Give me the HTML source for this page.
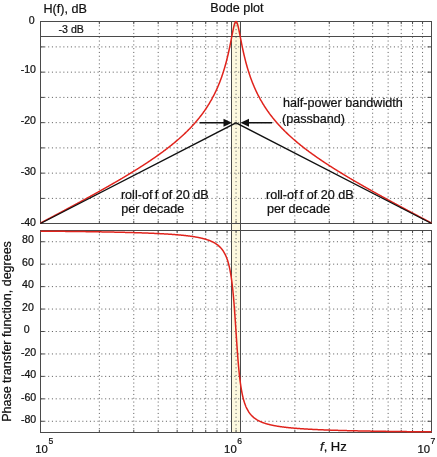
<!DOCTYPE html>
<html><head><meta charset="utf-8"><title>Bode plot</title>
<style>html,body{margin:0;padding:0;background:#fff}body{width:437px;height:457px;overflow:hidden}</style></head>
<body>
<svg width="437" height="457" viewBox="0 0 437 457" style="display:block">
<rect width="100%" height="100%" fill="#fff"/>
<rect x="231.5" y="21.5" width="9.0" height="411.0" fill="#fdf9df"/>
<path d="M99.35 21.5 V223.5 M99.35 230.5 V432.5 M133.78 21.5 V223.5 M133.78 230.5 V432.5 M158.20 21.5 V223.5 M158.20 230.5 V432.5 M177.15 21.5 V223.5 M177.15 230.5 V432.5 M192.63 21.5 V223.5 M192.63 230.5 V432.5 M205.72 21.5 V223.5 M205.72 230.5 V432.5 M217.05 21.5 V223.5 M217.05 230.5 V432.5 M227.05 21.5 V223.5 M227.05 230.5 V432.5 M294.85 21.5 V223.5 M294.85 230.5 V432.5 M329.28 21.5 V223.5 M329.28 230.5 V432.5 M353.70 21.5 V223.5 M353.70 230.5 V432.5 M372.65 21.5 V223.5 M372.65 230.5 V432.5 M388.13 21.5 V223.5 M388.13 230.5 V432.5 M401.22 21.5 V223.5 M401.22 230.5 V432.5 M412.55 21.5 V223.5 M412.55 230.5 V432.5 M422.55 21.5 V223.5 M422.55 230.5 V432.5 M236.05 21.5 V223.5 M236.05 230.5 V432.5 M40.5 198.40 H431.5 M40.5 173.15 H431.5 M40.5 147.90 H431.5 M40.5 122.65 H431.5 M40.5 97.40 H431.5 M40.5 72.15 H431.5 M40.5 46.90 H431.5 M40.5 421.28 H431.5 M40.5 398.83 H431.5 M40.5 376.39 H431.5 M40.5 353.94 H431.5 M40.5 331.50 H431.5 M40.5 309.06 H431.5 M40.5 286.61 H431.5 M40.5 264.17 H431.5 M40.5 241.72 H431.5" stroke="#686868" stroke-width="1" stroke-dasharray="1.1 2.7" fill="none"/>
<path d="M99.35 21.5 v2.6 M99.35 223.5 v-2.6 M99.35 230.5 v2.6 M99.35 432.5 v-2.6 M133.78 21.5 v2.6 M133.78 223.5 v-2.6 M133.78 230.5 v2.6 M133.78 432.5 v-2.6 M158.20 21.5 v2.6 M158.20 223.5 v-2.6 M158.20 230.5 v2.6 M158.20 432.5 v-2.6 M177.15 21.5 v2.6 M177.15 223.5 v-2.6 M177.15 230.5 v2.6 M177.15 432.5 v-2.6 M192.63 21.5 v2.6 M192.63 223.5 v-2.6 M192.63 230.5 v2.6 M192.63 432.5 v-2.6 M205.72 21.5 v2.6 M205.72 223.5 v-2.6 M205.72 230.5 v2.6 M205.72 432.5 v-2.6 M217.05 21.5 v2.6 M217.05 223.5 v-2.6 M217.05 230.5 v2.6 M217.05 432.5 v-2.6 M227.05 21.5 v2.6 M227.05 223.5 v-2.6 M227.05 230.5 v2.6 M227.05 432.5 v-2.6 M294.85 21.5 v2.6 M294.85 223.5 v-2.6 M294.85 230.5 v2.6 M294.85 432.5 v-2.6 M329.28 21.5 v2.6 M329.28 223.5 v-2.6 M329.28 230.5 v2.6 M329.28 432.5 v-2.6 M353.70 21.5 v2.6 M353.70 223.5 v-2.6 M353.70 230.5 v2.6 M353.70 432.5 v-2.6 M372.65 21.5 v2.6 M372.65 223.5 v-2.6 M372.65 230.5 v2.6 M372.65 432.5 v-2.6 M388.13 21.5 v2.6 M388.13 223.5 v-2.6 M388.13 230.5 v2.6 M388.13 432.5 v-2.6 M401.22 21.5 v2.6 M401.22 223.5 v-2.6 M401.22 230.5 v2.6 M401.22 432.5 v-2.6 M412.55 21.5 v2.6 M412.55 223.5 v-2.6 M412.55 230.5 v2.6 M412.55 432.5 v-2.6 M422.55 21.5 v2.6 M422.55 223.5 v-2.6 M422.55 230.5 v2.6 M422.55 432.5 v-2.6 M236.05 21.5 v2.6 M236.05 223.5 v-2.6 M236.05 230.5 v2.6 M236.05 432.5 v-2.6 M40.5 198.40 h4 M431.5 198.40 h-4 M40.5 173.15 h4 M431.5 173.15 h-4 M40.5 147.90 h4 M431.5 147.90 h-4 M40.5 122.65 h4 M431.5 122.65 h-4 M40.5 97.40 h4 M431.5 97.40 h-4 M40.5 72.15 h4 M431.5 72.15 h-4 M40.5 46.90 h4 M431.5 46.90 h-4 M40.5 421.28 h4 M431.5 421.28 h-4 M40.5 398.83 h4 M431.5 398.83 h-4 M40.5 376.39 h4 M431.5 376.39 h-4 M40.5 353.94 h4 M431.5 353.94 h-4 M40.5 331.50 h4 M431.5 331.50 h-4 M40.5 309.06 h4 M431.5 309.06 h-4 M40.5 286.61 h4 M431.5 286.61 h-4 M40.5 264.17 h4 M431.5 264.17 h-4 M40.5 241.72 h4 M431.5 241.72 h-4" stroke="#4a4a4a" stroke-width="1" fill="none"/>
<path d="M231.5 21.5 V432.5 M240.5 21.5 V432.5" stroke="#4a4a4a" stroke-width="1" fill="none"/>
<rect x="40.5" y="21.5" width="391.0" height="202.0" fill="none" stroke="#4a4a4a" stroke-width="1"/>
<rect x="40.5" y="230.5" width="391.0" height="202.0" fill="none" stroke="#4a4a4a" stroke-width="1"/>
<path d="M40.5 36.5 H431.5" stroke="#4a4a4a" stroke-width="1" fill="none"/>
<path d="M40.50 223.06 L40.78 222.91 L41.06 222.77 L41.34 222.62 L41.62 222.47 L41.90 222.33 L42.18 222.18 L42.45 222.03 L42.73 221.88 L43.01 221.74 L43.29 221.59 L43.57 221.44 L43.85 221.29 L44.13 221.15 L44.41 221.00 L44.69 220.85 L44.97 220.70 L45.25 220.56 L45.53 220.41 L45.81 220.26 L46.09 220.11 L46.37 219.97 L46.64 219.82 L46.92 219.67 L47.20 219.52 L47.48 219.38 L47.76 219.23 L48.04 219.08 L48.32 218.93 L48.60 218.78 L48.88 218.64 L49.16 218.49 L49.44 218.34 L49.72 218.19 L50.00 218.05 L50.27 217.90 L50.55 217.75 L50.83 217.60 L51.11 217.45 L51.39 217.31 L51.67 217.16 L51.95 217.01 L52.23 216.86 L52.51 216.71 L52.79 216.56 L53.07 216.42 L53.35 216.27 L53.63 216.12 L53.91 215.97 L54.19 215.82 L54.46 215.68 L54.74 215.53 L55.02 215.38 L55.30 215.23 L55.58 215.08 L55.86 214.93 L56.14 214.78 L56.42 214.64 L56.70 214.49 L56.98 214.34 L57.26 214.19 L57.54 214.04 L57.82 213.89 L58.09 213.74 L58.37 213.60 L58.65 213.45 L58.93 213.30 L59.21 213.15 L59.49 213.00 L59.77 212.85 L60.05 212.70 L60.33 212.55 L60.61 212.40 L60.89 212.26 L61.17 212.11 L61.45 211.96 L61.73 211.81 L62.01 211.66 L62.28 211.51 L62.56 211.36 L62.84 211.21 L63.12 211.06 L63.40 210.91 L63.68 210.76 L63.96 210.61 L64.24 210.47 L64.52 210.32 L64.80 210.17 L65.08 210.02 L65.36 209.87 L65.64 209.72 L65.91 209.57 L66.19 209.42 L66.47 209.27 L66.75 209.12 L67.03 208.97 L67.31 208.82 L67.59 208.67 L67.87 208.52 L68.15 208.37 L68.43 208.22 L68.71 208.07 L68.99 207.92 L69.27 207.77 L69.55 207.62 L69.83 207.47 L70.10 207.32 L70.38 207.17 L70.66 207.02 L70.94 206.87 L71.22 206.72 L71.50 206.57 L71.78 206.42 L72.06 206.27 L72.34 206.12 L72.62 205.97 L72.90 205.82 L73.18 205.67 L73.46 205.52 L73.73 205.36 L74.01 205.21 L74.29 205.06 L74.57 204.91 L74.85 204.76 L75.13 204.61 L75.41 204.46 L75.69 204.31 L75.97 204.16 L76.25 204.01 L76.53 203.86 L76.81 203.70 L77.09 203.55 L77.37 203.40 L77.65 203.25 L77.92 203.10 L78.20 202.95 L78.48 202.80 L78.76 202.64 L79.04 202.49 L79.32 202.34 L79.60 202.19 L79.88 202.04 L80.16 201.89 L80.44 201.73 L80.72 201.58 L81.00 201.43 L81.28 201.28 L81.55 201.13 L81.83 200.97 L82.11 200.82 L82.39 200.67 L82.67 200.52 L82.95 200.37 L83.23 200.21 L83.51 200.06 L83.79 199.91 L84.07 199.76 L84.35 199.60 L84.63 199.45 L84.91 199.30 L85.19 199.15 L85.47 198.99 L85.74 198.84 L86.02 198.69 L86.30 198.53 L86.58 198.38 L86.86 198.23 L87.14 198.08 L87.42 197.92 L87.70 197.77 L87.98 197.62 L88.26 197.46 L88.54 197.31 L88.82 197.16 L89.10 197.00 L89.38 196.85 L89.65 196.69 L89.93 196.54 L90.21 196.39 L90.49 196.23 L90.77 196.08 L91.05 195.92 L91.33 195.77 L91.61 195.62 L91.89 195.46 L92.17 195.31 L92.45 195.15 L92.73 195.00 L93.01 194.84 L93.28 194.69 L93.56 194.54 L93.84 194.38 L94.12 194.23 L94.40 194.07 L94.68 193.92 L94.96 193.76 L95.24 193.61 L95.52 193.45 L95.80 193.30 L96.08 193.14 L96.36 192.99 L96.64 192.83 L96.92 192.67 L97.20 192.52 L97.47 192.36 L97.75 192.21 L98.03 192.05 L98.31 191.90 L98.59 191.74 L98.87 191.58 L99.15 191.43 L99.43 191.27 L99.71 191.11 L99.99 190.96 L100.27 190.80 L100.55 190.65 L100.83 190.49 L101.10 190.33 L101.38 190.18 L101.66 190.02 L101.94 189.86 L102.22 189.70 L102.50 189.55 L102.78 189.39 L103.06 189.23 L103.34 189.08 L103.62 188.92 L103.90 188.76 L104.18 188.60 L104.46 188.44 L104.74 188.29 L105.02 188.13 L105.29 187.97 L105.57 187.81 L105.85 187.65 L106.13 187.50 L106.41 187.34 L106.69 187.18 L106.97 187.02 L107.25 186.86 L107.53 186.70 L107.81 186.54 L108.09 186.38 L108.37 186.23 L108.65 186.07 L108.92 185.91 L109.20 185.75 L109.48 185.59 L109.76 185.43 L110.04 185.27 L110.32 185.11 L110.60 184.95 L110.88 184.79 L111.16 184.63 L111.44 184.47 L111.72 184.31 L112.00 184.15 L112.28 183.99 L112.56 183.83 L112.84 183.66 L113.11 183.50 L113.39 183.34 L113.67 183.18 L113.95 183.02 L114.23 182.86 L114.51 182.70 L114.79 182.53 L115.07 182.37 L115.35 182.21 L115.63 182.05 L115.91 181.89 L116.19 181.72 L116.47 181.56 L116.74 181.40 L117.02 181.24 L117.30 181.07 L117.58 180.91 L117.86 180.75 L118.14 180.58 L118.42 180.42 L118.70 180.26 L118.98 180.09 L119.26 179.93 L119.54 179.77 L119.82 179.60 L120.10 179.44 L120.38 179.27 L120.66 179.11 L120.93 178.94 L121.21 178.78 L121.49 178.61 L121.77 178.45 L122.05 178.28 L122.33 178.12 L122.61 177.95 L122.89 177.79 L123.17 177.62 L123.45 177.46 L123.73 177.29 L124.01 177.12 L124.29 176.96 L124.56 176.79 L124.84 176.62 L125.12 176.46 L125.40 176.29 L125.68 176.12 L125.96 175.95 L126.24 175.79 L126.52 175.62 L126.80 175.45 L127.08 175.28 L127.36 175.11 L127.64 174.95 L127.92 174.78 L128.20 174.61 L128.48 174.44 L128.75 174.27 L129.03 174.10 L129.31 173.93 L129.59 173.76 L129.87 173.59 L130.15 173.42 L130.43 173.25 L130.71 173.08 L130.99 172.91 L131.27 172.74 L131.55 172.57 L131.83 172.40 L132.11 172.23 L132.38 172.06 L132.66 171.88 L132.94 171.71 L133.22 171.54 L133.50 171.37 L133.78 171.20 L134.06 171.02 L134.34 170.85 L134.62 170.68 L134.90 170.50 L135.18 170.33 L135.46 170.16 L135.74 169.98 L136.02 169.81 L136.30 169.63 L136.57 169.46 L136.85 169.28 L137.13 169.11 L137.41 168.93 L137.69 168.76 L137.97 168.58 L138.25 168.41 L138.53 168.23 L138.81 168.05 L139.09 167.88 L139.37 167.70 L139.65 167.52 L139.93 167.34 L140.20 167.17 L140.48 166.99 L140.76 166.81 L141.04 166.63 L141.32 166.45 L141.60 166.27 L141.88 166.10 L142.16 165.92 L142.44 165.74 L142.72 165.56 L143.00 165.38 L143.28 165.20 L143.56 165.01 L143.84 164.83 L144.12 164.65 L144.39 164.47 L144.67 164.29 L144.95 164.11 L145.23 163.92 L145.51 163.74 L145.79 163.56 L146.07 163.38 L146.35 163.19 L146.63 163.01 L146.91 162.82 L147.19 162.64 L147.47 162.45 L147.75 162.27 L148.02 162.08 L148.30 161.90 L148.58 161.71 L148.86 161.53 L149.14 161.34 L149.42 161.15 L149.70 160.97 L149.98 160.78 L150.26 160.59 L150.54 160.40 L150.82 160.21 L151.10 160.02 L151.38 159.83 L151.66 159.64 L151.94 159.45 L152.21 159.26 L152.49 159.07 L152.77 158.88 L153.05 158.69 L153.33 158.50 L153.61 158.31 L153.89 158.12 L154.17 157.92 L154.45 157.73 L154.73 157.54 L155.01 157.34 L155.29 157.15 L155.57 156.95 L155.84 156.76 L156.12 156.56 L156.40 156.37 L156.68 156.17 L156.96 155.97 L157.24 155.78 L157.52 155.58 L157.80 155.38 L158.08 155.18 L158.36 154.98 L158.64 154.78 L158.92 154.58 L159.20 154.38 L159.48 154.18 L159.76 153.98 L160.03 153.78 L160.31 153.58 L160.59 153.38 L160.87 153.17 L161.15 152.97 L161.43 152.77 L161.71 152.56 L161.99 152.36 L162.27 152.15 L162.55 151.95 L162.83 151.74 L163.11 151.53 L163.39 151.33 L163.66 151.12 L163.94 150.91 L164.22 150.70 L164.50 150.49 L164.78 150.28 L165.06 150.07 L165.34 149.86 L165.62 149.65 L165.90 149.44 L166.18 149.23 L166.46 149.01 L166.74 148.80 L167.02 148.59 L167.30 148.37 L167.58 148.16 L167.85 147.94 L168.13 147.72 L168.41 147.51 L168.69 147.29 L168.97 147.07 L169.25 146.85 L169.53 146.63 L169.81 146.41 L170.09 146.19 L170.37 145.97 L170.65 145.75 L170.93 145.53 L171.21 145.30 L171.48 145.08 L171.76 144.85 L172.04 144.63 L172.32 144.40 L172.60 144.18 L172.88 143.95 L173.16 143.72 L173.44 143.49 L173.72 143.26 L174.00 143.03 L174.28 142.80 L174.56 142.57 L174.84 142.34 L175.12 142.10 L175.39 141.87 L175.67 141.64 L175.95 141.40 L176.23 141.16 L176.51 140.93 L176.79 140.69 L177.07 140.45 L177.35 140.21 L177.63 139.97 L177.91 139.73 L178.19 139.49 L178.47 139.24 L178.75 139.00 L179.03 138.75 L179.31 138.51 L179.58 138.26 L179.86 138.01 L180.14 137.77 L180.42 137.52 L180.70 137.27 L180.98 137.02 L181.26 136.76 L181.54 136.51 L181.82 136.26 L182.10 136.00 L182.38 135.74 L182.66 135.49 L182.94 135.23 L183.22 134.97 L183.49 134.71 L183.77 134.45 L184.05 134.19 L184.33 133.92 L184.61 133.66 L184.89 133.39 L185.17 133.13 L185.45 132.86 L185.73 132.59 L186.01 132.32 L186.29 132.05 L186.57 131.77 L186.85 131.50 L187.12 131.22 L187.40 130.95 L187.68 130.67 L187.96 130.39 L188.24 130.11 L188.52 129.83 L188.80 129.55 L189.08 129.26 L189.36 128.98 L189.64 128.69 L189.92 128.40 L190.20 128.11 L190.48 127.82 L190.76 127.53 L191.03 127.23 L191.31 126.94 L191.59 126.64 L191.87 126.34 L192.15 126.04 L192.43 125.74 L192.71 125.43 L192.99 125.13 L193.27 124.82 L193.55 124.51 L193.83 124.20 L194.11 123.89 L194.39 123.58 L194.67 123.26 L194.94 122.94 L195.22 122.63 L195.50 122.30 L195.78 121.98 L196.06 121.66 L196.34 121.33 L196.62 121.00 L196.90 120.67 L197.18 120.34 L197.46 120.00 L197.74 119.67 L198.02 119.33 L198.30 118.99 L198.58 118.64 L198.86 118.30 L199.13 117.95 L199.41 117.60 L199.69 117.25 L199.97 116.90 L200.25 116.54 L200.53 116.18 L200.81 115.82 L201.09 115.45 L201.37 115.09 L201.65 114.72 L201.93 114.35 L202.21 113.97 L202.49 113.60 L202.77 113.22 L203.04 112.83 L203.32 112.45 L203.60 112.06 L203.88 111.67 L204.16 111.27 L204.44 110.88 L204.72 110.47 L205.00 110.07 L205.28 109.66 L205.56 109.25 L205.84 108.84 L206.12 108.42 L206.40 108.00 L206.67 107.58 L206.95 107.15 L207.23 106.72 L207.51 106.29 L207.79 105.85 L208.07 105.40 L208.35 104.96 L208.63 104.51 L208.91 104.05 L209.19 103.59 L209.47 103.13 L209.75 102.66 L210.03 102.19 L210.31 101.72 L210.59 101.24 L210.86 100.75 L211.14 100.26 L211.42 99.76 L211.70 99.26 L211.98 98.76 L212.26 98.25 L212.54 97.73 L212.82 97.21 L213.10 96.68 L213.38 96.15 L213.66 95.61 L213.94 95.07 L214.22 94.51 L214.49 93.96 L214.77 93.39 L215.05 92.82 L215.33 92.25 L215.61 91.66 L215.89 91.07 L216.17 90.47 L216.45 89.87 L216.73 89.25 L217.01 88.63 L217.29 88.00 L217.57 87.37 L217.85 86.72 L218.13 86.07 L218.41 85.40 L218.68 84.73 L218.96 84.05 L219.24 83.36 L219.52 82.66 L219.80 81.94 L220.08 81.22 L220.36 80.49 L220.64 79.75 L220.92 78.99 L221.20 78.22 L221.48 77.44 L221.76 76.65 L222.04 75.85 L222.31 75.03 L222.59 74.20 L222.87 73.35 L223.15 72.50 L223.43 71.62 L223.71 70.73 L223.99 69.83 L224.27 68.90 L224.55 67.97 L224.83 67.01 L225.11 66.04 L225.39 65.04 L225.67 64.03 L225.95 63.00 L226.23 61.95 L226.50 60.88 L226.78 59.79 L227.06 58.68 L227.34 57.55 L227.62 56.39 L227.90 55.21 L228.18 54.01 L228.46 52.78 L228.74 51.53 L229.02 50.26 L229.30 48.96 L229.58 47.64 L229.86 46.30 L230.13 44.94 L230.41 43.56 L230.69 42.15 L230.97 40.74 L231.25 39.31 L231.53 37.87 L231.81 36.42 L232.09 34.98 L232.37 33.55 L232.65 32.13 L232.93 30.74 L233.21 29.39 L233.49 28.09 L233.77 26.86 L234.05 25.72 L234.32 24.68 L234.60 23.75 L234.88 22.97 L235.16 22.34 L235.44 21.88 L235.72 21.59 L236.00 21.50 L236.28 21.59 L236.56 21.88 L236.84 22.34 L237.12 22.97 L237.40 23.75 L237.68 24.68 L237.95 25.72 L238.23 26.86 L238.51 28.09 L238.79 29.39 L239.07 30.74 L239.35 32.13 L239.63 33.55 L239.91 34.98 L240.19 36.42 L240.47 37.87 L240.75 39.31 L241.03 40.74 L241.31 42.15 L241.59 43.56 L241.87 44.94 L242.14 46.30 L242.42 47.64 L242.70 48.96 L242.98 50.26 L243.26 51.53 L243.54 52.78 L243.82 54.01 L244.10 55.21 L244.38 56.39 L244.66 57.55 L244.94 58.68 L245.22 59.79 L245.50 60.88 L245.77 61.95 L246.05 63.00 L246.33 64.03 L246.61 65.04 L246.89 66.04 L247.17 67.01 L247.45 67.97 L247.73 68.90 L248.01 69.83 L248.29 70.73 L248.57 71.62 L248.85 72.50 L249.13 73.35 L249.41 74.20 L249.69 75.03 L249.96 75.85 L250.24 76.65 L250.52 77.44 L250.80 78.22 L251.08 78.99 L251.36 79.75 L251.64 80.49 L251.92 81.22 L252.20 81.94 L252.48 82.66 L252.76 83.36 L253.04 84.05 L253.32 84.73 L253.59 85.40 L253.87 86.07 L254.15 86.72 L254.43 87.37 L254.71 88.00 L254.99 88.63 L255.27 89.25 L255.55 89.87 L255.83 90.47 L256.11 91.07 L256.39 91.66 L256.67 92.25 L256.95 92.82 L257.23 93.39 L257.51 93.96 L257.78 94.51 L258.06 95.07 L258.34 95.61 L258.62 96.15 L258.90 96.68 L259.18 97.21 L259.46 97.73 L259.74 98.25 L260.02 98.76 L260.30 99.26 L260.58 99.76 L260.86 100.26 L261.14 100.75 L261.41 101.24 L261.69 101.72 L261.97 102.19 L262.25 102.66 L262.53 103.13 L262.81 103.59 L263.09 104.05 L263.37 104.51 L263.65 104.96 L263.93 105.40 L264.21 105.85 L264.49 106.29 L264.77 106.72 L265.05 107.15 L265.33 107.58 L265.60 108.00 L265.88 108.42 L266.16 108.84 L266.44 109.25 L266.72 109.66 L267.00 110.07 L267.28 110.47 L267.56 110.88 L267.84 111.27 L268.12 111.67 L268.40 112.06 L268.68 112.45 L268.96 112.83 L269.24 113.22 L269.51 113.60 L269.79 113.97 L270.07 114.35 L270.35 114.72 L270.63 115.09 L270.91 115.45 L271.19 115.82 L271.47 116.18 L271.75 116.54 L272.03 116.90 L272.31 117.25 L272.59 117.60 L272.87 117.95 L273.14 118.30 L273.42 118.64 L273.70 118.99 L273.98 119.33 L274.26 119.67 L274.54 120.00 L274.82 120.34 L275.10 120.67 L275.38 121.00 L275.66 121.33 L275.94 121.66 L276.22 121.98 L276.50 122.30 L276.78 122.63 L277.06 122.94 L277.33 123.26 L277.61 123.58 L277.89 123.89 L278.17 124.20 L278.45 124.51 L278.73 124.82 L279.01 125.13 L279.29 125.43 L279.57 125.74 L279.85 126.04 L280.13 126.34 L280.41 126.64 L280.69 126.94 L280.97 127.23 L281.24 127.53 L281.52 127.82 L281.80 128.11 L282.08 128.40 L282.36 128.69 L282.64 128.98 L282.92 129.26 L283.20 129.55 L283.48 129.83 L283.76 130.11 L284.04 130.39 L284.32 130.67 L284.60 130.95 L284.88 131.22 L285.15 131.50 L285.43 131.77 L285.71 132.05 L285.99 132.32 L286.27 132.59 L286.55 132.86 L286.83 133.13 L287.11 133.39 L287.39 133.66 L287.67 133.92 L287.95 134.19 L288.23 134.45 L288.51 134.71 L288.78 134.97 L289.06 135.23 L289.34 135.49 L289.62 135.74 L289.90 136.00 L290.18 136.26 L290.46 136.51 L290.74 136.76 L291.02 137.02 L291.30 137.27 L291.58 137.52 L291.86 137.77 L292.14 138.01 L292.42 138.26 L292.69 138.51 L292.97 138.75 L293.25 139.00 L293.53 139.24 L293.81 139.49 L294.09 139.73 L294.37 139.97 L294.65 140.21 L294.93 140.45 L295.21 140.69 L295.49 140.93 L295.77 141.16 L296.05 141.40 L296.33 141.64 L296.61 141.87 L296.88 142.10 L297.16 142.34 L297.44 142.57 L297.72 142.80 L298.00 143.03 L298.28 143.26 L298.56 143.49 L298.84 143.72 L299.12 143.95 L299.40 144.18 L299.68 144.40 L299.96 144.63 L300.24 144.85 L300.51 145.08 L300.79 145.30 L301.07 145.53 L301.35 145.75 L301.63 145.97 L301.91 146.19 L302.19 146.41 L302.47 146.63 L302.75 146.85 L303.03 147.07 L303.31 147.29 L303.59 147.51 L303.87 147.72 L304.15 147.94 L304.42 148.16 L304.70 148.37 L304.98 148.59 L305.26 148.80 L305.54 149.01 L305.82 149.23 L306.10 149.44 L306.38 149.65 L306.66 149.86 L306.94 150.07 L307.22 150.28 L307.50 150.49 L307.78 150.70 L308.06 150.91 L308.34 151.12 L308.61 151.33 L308.89 151.53 L309.17 151.74 L309.45 151.95 L309.73 152.15 L310.01 152.36 L310.29 152.56 L310.57 152.77 L310.85 152.97 L311.13 153.17 L311.41 153.38 L311.69 153.58 L311.97 153.78 L312.24 153.98 L312.52 154.18 L312.80 154.38 L313.08 154.58 L313.36 154.78 L313.64 154.98 L313.92 155.18 L314.20 155.38 L314.48 155.58 L314.76 155.78 L315.04 155.97 L315.32 156.17 L315.60 156.37 L315.88 156.56 L316.16 156.76 L316.43 156.95 L316.71 157.15 L316.99 157.34 L317.27 157.54 L317.55 157.73 L317.83 157.92 L318.11 158.12 L318.39 158.31 L318.67 158.50 L318.95 158.69 L319.23 158.88 L319.51 159.07 L319.79 159.26 L320.06 159.45 L320.34 159.64 L320.62 159.83 L320.90 160.02 L321.18 160.21 L321.46 160.40 L321.74 160.59 L322.02 160.78 L322.30 160.97 L322.58 161.15 L322.86 161.34 L323.14 161.53 L323.42 161.71 L323.70 161.90 L323.98 162.08 L324.25 162.27 L324.53 162.45 L324.81 162.64 L325.09 162.82 L325.37 163.01 L325.65 163.19 L325.93 163.38 L326.21 163.56 L326.49 163.74 L326.77 163.92 L327.05 164.11 L327.33 164.29 L327.61 164.47 L327.88 164.65 L328.16 164.83 L328.44 165.01 L328.72 165.20 L329.00 165.38 L329.28 165.56 L329.56 165.74 L329.84 165.92 L330.12 166.10 L330.40 166.27 L330.68 166.45 L330.96 166.63 L331.24 166.81 L331.52 166.99 L331.80 167.17 L332.07 167.34 L332.35 167.52 L332.63 167.70 L332.91 167.88 L333.19 168.05 L333.47 168.23 L333.75 168.41 L334.03 168.58 L334.31 168.76 L334.59 168.93 L334.87 169.11 L335.15 169.28 L335.43 169.46 L335.70 169.63 L335.98 169.81 L336.26 169.98 L336.54 170.16 L336.82 170.33 L337.10 170.50 L337.38 170.68 L337.66 170.85 L337.94 171.02 L338.22 171.20 L338.50 171.37 L338.78 171.54 L339.06 171.71 L339.34 171.88 L339.62 172.06 L339.89 172.23 L340.17 172.40 L340.45 172.57 L340.73 172.74 L341.01 172.91 L341.29 173.08 L341.57 173.25 L341.85 173.42 L342.13 173.59 L342.41 173.76 L342.69 173.93 L342.97 174.10 L343.25 174.27 L343.52 174.44 L343.80 174.61 L344.08 174.78 L344.36 174.95 L344.64 175.11 L344.92 175.28 L345.20 175.45 L345.48 175.62 L345.76 175.79 L346.04 175.95 L346.32 176.12 L346.60 176.29 L346.88 176.46 L347.16 176.62 L347.44 176.79 L347.71 176.96 L347.99 177.12 L348.27 177.29 L348.55 177.46 L348.83 177.62 L349.11 177.79 L349.39 177.95 L349.67 178.12 L349.95 178.28 L350.23 178.45 L350.51 178.61 L350.79 178.78 L351.07 178.94 L351.34 179.11 L351.62 179.27 L351.90 179.44 L352.18 179.60 L352.46 179.77 L352.74 179.93 L353.02 180.09 L353.30 180.26 L353.58 180.42 L353.86 180.58 L354.14 180.75 L354.42 180.91 L354.70 181.07 L354.98 181.24 L355.26 181.40 L355.53 181.56 L355.81 181.72 L356.09 181.89 L356.37 182.05 L356.65 182.21 L356.93 182.37 L357.21 182.53 L357.49 182.70 L357.77 182.86 L358.05 183.02 L358.33 183.18 L358.61 183.34 L358.89 183.50 L359.16 183.66 L359.44 183.83 L359.72 183.99 L360.00 184.15 L360.28 184.31 L360.56 184.47 L360.84 184.63 L361.12 184.79 L361.40 184.95 L361.68 185.11 L361.96 185.27 L362.24 185.43 L362.52 185.59 L362.80 185.75 L363.08 185.91 L363.35 186.07 L363.63 186.23 L363.91 186.38 L364.19 186.54 L364.47 186.70 L364.75 186.86 L365.03 187.02 L365.31 187.18 L365.59 187.34 L365.87 187.50 L366.15 187.65 L366.43 187.81 L366.71 187.97 L366.99 188.13 L367.26 188.29 L367.54 188.44 L367.82 188.60 L368.10 188.76 L368.38 188.92 L368.66 189.08 L368.94 189.23 L369.22 189.39 L369.50 189.55 L369.78 189.70 L370.06 189.86 L370.34 190.02 L370.62 190.18 L370.89 190.33 L371.17 190.49 L371.45 190.65 L371.73 190.80 L372.01 190.96 L372.29 191.11 L372.57 191.27 L372.85 191.43 L373.13 191.58 L373.41 191.74 L373.69 191.90 L373.97 192.05 L374.25 192.21 L374.53 192.36 L374.81 192.52 L375.08 192.67 L375.36 192.83 L375.64 192.99 L375.92 193.14 L376.20 193.30 L376.48 193.45 L376.76 193.61 L377.04 193.76 L377.32 193.92 L377.60 194.07 L377.88 194.23 L378.16 194.38 L378.44 194.54 L378.72 194.69 L378.99 194.84 L379.27 195.00 L379.55 195.15 L379.83 195.31 L380.11 195.46 L380.39 195.62 L380.67 195.77 L380.95 195.92 L381.23 196.08 L381.51 196.23 L381.79 196.39 L382.07 196.54 L382.35 196.69 L382.62 196.85 L382.90 197.00 L383.18 197.16 L383.46 197.31 L383.74 197.46 L384.02 197.62 L384.30 197.77 L384.58 197.92 L384.86 198.08 L385.14 198.23 L385.42 198.38 L385.70 198.53 L385.98 198.69 L386.26 198.84 L386.53 198.99 L386.81 199.15 L387.09 199.30 L387.37 199.45 L387.65 199.60 L387.93 199.76 L388.21 199.91 L388.49 200.06 L388.77 200.21 L389.05 200.37 L389.33 200.52 L389.61 200.67 L389.89 200.82 L390.17 200.97 L390.44 201.13 L390.72 201.28 L391.00 201.43 L391.28 201.58 L391.56 201.73 L391.84 201.89 L392.12 202.04 L392.40 202.19 L392.68 202.34 L392.96 202.49 L393.24 202.64 L393.52 202.80 L393.80 202.95 L394.08 203.10 L394.36 203.25 L394.63 203.40 L394.91 203.55 L395.19 203.70 L395.47 203.86 L395.75 204.01 L396.03 204.16 L396.31 204.31 L396.59 204.46 L396.87 204.61 L397.15 204.76 L397.43 204.91 L397.71 205.06 L397.99 205.21 L398.26 205.36 L398.54 205.52 L398.82 205.67 L399.10 205.82 L399.38 205.97 L399.66 206.12 L399.94 206.27 L400.22 206.42 L400.50 206.57 L400.78 206.72 L401.06 206.87 L401.34 207.02 L401.62 207.17 L401.90 207.32 L402.17 207.47 L402.45 207.62 L402.73 207.77 L403.01 207.92 L403.29 208.07 L403.57 208.22 L403.85 208.37 L404.13 208.52 L404.41 208.67 L404.69 208.82 L404.97 208.97 L405.25 209.12 L405.53 209.27 L405.81 209.42 L406.09 209.57 L406.36 209.72 L406.64 209.87 L406.92 210.02 L407.20 210.17 L407.48 210.32 L407.76 210.47 L408.04 210.61 L408.32 210.76 L408.60 210.91 L408.88 211.06 L409.16 211.21 L409.44 211.36 L409.72 211.51 L409.99 211.66 L410.27 211.81 L410.55 211.96 L410.83 212.11 L411.11 212.26 L411.39 212.40 L411.67 212.55 L411.95 212.70 L412.23 212.85 L412.51 213.00 L412.79 213.15 L413.07 213.30 L413.35 213.45 L413.63 213.60 L413.91 213.74 L414.18 213.89 L414.46 214.04 L414.74 214.19 L415.02 214.34 L415.30 214.49 L415.58 214.64 L415.86 214.78 L416.14 214.93 L416.42 215.08 L416.70 215.23 L416.98 215.38 L417.26 215.53 L417.54 215.68 L417.81 215.82 L418.09 215.97 L418.37 216.12 L418.65 216.27 L418.93 216.42 L419.21 216.56 L419.49 216.71 L419.77 216.86 L420.05 217.01 L420.33 217.16 L420.61 217.31 L420.89 217.45 L421.17 217.60 L421.45 217.75 L421.73 217.90 L422.00 218.05 L422.28 218.19 L422.56 218.34 L422.84 218.49 L423.12 218.64 L423.40 218.78 L423.68 218.93 L423.96 219.08 L424.24 219.23 L424.52 219.38 L424.80 219.52 L425.08 219.67 L425.36 219.82 L425.63 219.97 L425.91 220.11 L426.19 220.26 L426.47 220.41 L426.75 220.56 L427.03 220.70 L427.31 220.85 L427.59 221.00 L427.87 221.15 L428.15 221.29 L428.43 221.44 L428.71 221.59 L428.99 221.74 L429.27 221.88 L429.55 222.03 L429.82 222.18 L430.10 222.33 L430.38 222.47 L430.66 222.62 L430.94 222.77 L431.22 222.91 L431.50 223.06" stroke="#e0231c" stroke-width="1.5" fill="none" stroke-linejoin="round"/>
<path d="M40.50 231.15 L40.78 231.15 L41.06 231.15 L41.34 231.16 L41.62 231.16 L41.90 231.16 L42.18 231.16 L42.45 231.16 L42.73 231.17 L43.01 231.17 L43.29 231.17 L43.57 231.17 L43.85 231.18 L44.13 231.18 L44.41 231.18 L44.69 231.18 L44.97 231.19 L45.25 231.19 L45.53 231.19 L45.81 231.19 L46.09 231.19 L46.37 231.20 L46.64 231.20 L46.92 231.20 L47.20 231.20 L47.48 231.21 L47.76 231.21 L48.04 231.21 L48.32 231.21 L48.60 231.22 L48.88 231.22 L49.16 231.22 L49.44 231.22 L49.72 231.23 L50.00 231.23 L50.27 231.23 L50.55 231.23 L50.83 231.24 L51.11 231.24 L51.39 231.24 L51.67 231.24 L51.95 231.25 L52.23 231.25 L52.51 231.25 L52.79 231.25 L53.07 231.26 L53.35 231.26 L53.63 231.26 L53.91 231.26 L54.19 231.27 L54.46 231.27 L54.74 231.27 L55.02 231.27 L55.30 231.28 L55.58 231.28 L55.86 231.28 L56.14 231.28 L56.42 231.29 L56.70 231.29 L56.98 231.29 L57.26 231.30 L57.54 231.30 L57.82 231.30 L58.09 231.30 L58.37 231.31 L58.65 231.31 L58.93 231.31 L59.21 231.31 L59.49 231.32 L59.77 231.32 L60.05 231.32 L60.33 231.33 L60.61 231.33 L60.89 231.33 L61.17 231.33 L61.45 231.34 L61.73 231.34 L62.01 231.34 L62.28 231.35 L62.56 231.35 L62.84 231.35 L63.12 231.35 L63.40 231.36 L63.68 231.36 L63.96 231.36 L64.24 231.37 L64.52 231.37 L64.80 231.37 L65.08 231.37 L65.36 231.38 L65.64 231.38 L65.91 231.38 L66.19 231.39 L66.47 231.39 L66.75 231.39 L67.03 231.40 L67.31 231.40 L67.59 231.40 L67.87 231.40 L68.15 231.41 L68.43 231.41 L68.71 231.41 L68.99 231.42 L69.27 231.42 L69.55 231.42 L69.83 231.43 L70.10 231.43 L70.38 231.43 L70.66 231.44 L70.94 231.44 L71.22 231.44 L71.50 231.45 L71.78 231.45 L72.06 231.45 L72.34 231.46 L72.62 231.46 L72.90 231.46 L73.18 231.47 L73.46 231.47 L73.73 231.47 L74.01 231.48 L74.29 231.48 L74.57 231.48 L74.85 231.49 L75.13 231.49 L75.41 231.49 L75.69 231.50 L75.97 231.50 L76.25 231.50 L76.53 231.51 L76.81 231.51 L77.09 231.51 L77.37 231.52 L77.65 231.52 L77.92 231.52 L78.20 231.53 L78.48 231.53 L78.76 231.53 L79.04 231.54 L79.32 231.54 L79.60 231.55 L79.88 231.55 L80.16 231.55 L80.44 231.56 L80.72 231.56 L81.00 231.56 L81.28 231.57 L81.55 231.57 L81.83 231.57 L82.11 231.58 L82.39 231.58 L82.67 231.59 L82.95 231.59 L83.23 231.59 L83.51 231.60 L83.79 231.60 L84.07 231.60 L84.35 231.61 L84.63 231.61 L84.91 231.62 L85.19 231.62 L85.47 231.62 L85.74 231.63 L86.02 231.63 L86.30 231.64 L86.58 231.64 L86.86 231.64 L87.14 231.65 L87.42 231.65 L87.70 231.66 L87.98 231.66 L88.26 231.66 L88.54 231.67 L88.82 231.67 L89.10 231.68 L89.38 231.68 L89.65 231.68 L89.93 231.69 L90.21 231.69 L90.49 231.70 L90.77 231.70 L91.05 231.71 L91.33 231.71 L91.61 231.71 L91.89 231.72 L92.17 231.72 L92.45 231.73 L92.73 231.73 L93.01 231.74 L93.28 231.74 L93.56 231.74 L93.84 231.75 L94.12 231.75 L94.40 231.76 L94.68 231.76 L94.96 231.77 L95.24 231.77 L95.52 231.78 L95.80 231.78 L96.08 231.78 L96.36 231.79 L96.64 231.79 L96.92 231.80 L97.20 231.80 L97.47 231.81 L97.75 231.81 L98.03 231.82 L98.31 231.82 L98.59 231.83 L98.87 231.83 L99.15 231.84 L99.43 231.84 L99.71 231.85 L99.99 231.85 L100.27 231.86 L100.55 231.86 L100.83 231.86 L101.10 231.87 L101.38 231.87 L101.66 231.88 L101.94 231.88 L102.22 231.89 L102.50 231.89 L102.78 231.90 L103.06 231.90 L103.34 231.91 L103.62 231.91 L103.90 231.92 L104.18 231.92 L104.46 231.93 L104.74 231.94 L105.02 231.94 L105.29 231.95 L105.57 231.95 L105.85 231.96 L106.13 231.96 L106.41 231.97 L106.69 231.97 L106.97 231.98 L107.25 231.98 L107.53 231.99 L107.81 231.99 L108.09 232.00 L108.37 232.00 L108.65 232.01 L108.92 232.02 L109.20 232.02 L109.48 232.03 L109.76 232.03 L110.04 232.04 L110.32 232.04 L110.60 232.05 L110.88 232.05 L111.16 232.06 L111.44 232.07 L111.72 232.07 L112.00 232.08 L112.28 232.08 L112.56 232.09 L112.84 232.09 L113.11 232.10 L113.39 232.11 L113.67 232.11 L113.95 232.12 L114.23 232.12 L114.51 232.13 L114.79 232.14 L115.07 232.14 L115.35 232.15 L115.63 232.15 L115.91 232.16 L116.19 232.17 L116.47 232.17 L116.74 232.18 L117.02 232.19 L117.30 232.19 L117.58 232.20 L117.86 232.20 L118.14 232.21 L118.42 232.22 L118.70 232.22 L118.98 232.23 L119.26 232.24 L119.54 232.24 L119.82 232.25 L120.10 232.26 L120.38 232.26 L120.66 232.27 L120.93 232.28 L121.21 232.28 L121.49 232.29 L121.77 232.30 L122.05 232.30 L122.33 232.31 L122.61 232.32 L122.89 232.32 L123.17 232.33 L123.45 232.34 L123.73 232.34 L124.01 232.35 L124.29 232.36 L124.56 232.37 L124.84 232.37 L125.12 232.38 L125.40 232.39 L125.68 232.39 L125.96 232.40 L126.24 232.41 L126.52 232.42 L126.80 232.42 L127.08 232.43 L127.36 232.44 L127.64 232.45 L127.92 232.45 L128.20 232.46 L128.48 232.47 L128.75 232.48 L129.03 232.48 L129.31 232.49 L129.59 232.50 L129.87 232.51 L130.15 232.51 L130.43 232.52 L130.71 232.53 L130.99 232.54 L131.27 232.55 L131.55 232.55 L131.83 232.56 L132.11 232.57 L132.38 232.58 L132.66 232.59 L132.94 232.59 L133.22 232.60 L133.50 232.61 L133.78 232.62 L134.06 232.63 L134.34 232.64 L134.62 232.64 L134.90 232.65 L135.18 232.66 L135.46 232.67 L135.74 232.68 L136.02 232.69 L136.30 232.70 L136.57 232.70 L136.85 232.71 L137.13 232.72 L137.41 232.73 L137.69 232.74 L137.97 232.75 L138.25 232.76 L138.53 232.77 L138.81 232.78 L139.09 232.79 L139.37 232.79 L139.65 232.80 L139.93 232.81 L140.20 232.82 L140.48 232.83 L140.76 232.84 L141.04 232.85 L141.32 232.86 L141.60 232.87 L141.88 232.88 L142.16 232.89 L142.44 232.90 L142.72 232.91 L143.00 232.92 L143.28 232.93 L143.56 232.94 L143.84 232.95 L144.12 232.96 L144.39 232.97 L144.67 232.98 L144.95 232.99 L145.23 233.00 L145.51 233.01 L145.79 233.02 L146.07 233.03 L146.35 233.04 L146.63 233.05 L146.91 233.06 L147.19 233.08 L147.47 233.09 L147.75 233.10 L148.02 233.11 L148.30 233.12 L148.58 233.13 L148.86 233.14 L149.14 233.15 L149.42 233.16 L149.70 233.18 L149.98 233.19 L150.26 233.20 L150.54 233.21 L150.82 233.22 L151.10 233.23 L151.38 233.25 L151.66 233.26 L151.94 233.27 L152.21 233.28 L152.49 233.29 L152.77 233.31 L153.05 233.32 L153.33 233.33 L153.61 233.34 L153.89 233.36 L154.17 233.37 L154.45 233.38 L154.73 233.39 L155.01 233.41 L155.29 233.42 L155.57 233.43 L155.84 233.45 L156.12 233.46 L156.40 233.47 L156.68 233.49 L156.96 233.50 L157.24 233.51 L157.52 233.53 L157.80 233.54 L158.08 233.55 L158.36 233.57 L158.64 233.58 L158.92 233.60 L159.20 233.61 L159.48 233.62 L159.76 233.64 L160.03 233.65 L160.31 233.67 L160.59 233.68 L160.87 233.70 L161.15 233.71 L161.43 233.73 L161.71 233.74 L161.99 233.76 L162.27 233.77 L162.55 233.79 L162.83 233.80 L163.11 233.82 L163.39 233.83 L163.66 233.85 L163.94 233.87 L164.22 233.88 L164.50 233.90 L164.78 233.91 L165.06 233.93 L165.34 233.95 L165.62 233.96 L165.90 233.98 L166.18 234.00 L166.46 234.01 L166.74 234.03 L167.02 234.05 L167.30 234.07 L167.58 234.08 L167.85 234.10 L168.13 234.12 L168.41 234.14 L168.69 234.16 L168.97 234.17 L169.25 234.19 L169.53 234.21 L169.81 234.23 L170.09 234.25 L170.37 234.27 L170.65 234.29 L170.93 234.31 L171.21 234.33 L171.48 234.35 L171.76 234.36 L172.04 234.38 L172.32 234.40 L172.60 234.43 L172.88 234.45 L173.16 234.47 L173.44 234.49 L173.72 234.51 L174.00 234.53 L174.28 234.55 L174.56 234.57 L174.84 234.59 L175.12 234.62 L175.39 234.64 L175.67 234.66 L175.95 234.68 L176.23 234.70 L176.51 234.73 L176.79 234.75 L177.07 234.77 L177.35 234.80 L177.63 234.82 L177.91 234.84 L178.19 234.87 L178.47 234.89 L178.75 234.92 L179.03 234.94 L179.31 234.97 L179.58 234.99 L179.86 235.02 L180.14 235.04 L180.42 235.07 L180.70 235.10 L180.98 235.12 L181.26 235.15 L181.54 235.18 L181.82 235.20 L182.10 235.23 L182.38 235.26 L182.66 235.29 L182.94 235.31 L183.22 235.34 L183.49 235.37 L183.77 235.40 L184.05 235.43 L184.33 235.46 L184.61 235.49 L184.89 235.52 L185.17 235.55 L185.45 235.58 L185.73 235.61 L186.01 235.65 L186.29 235.68 L186.57 235.71 L186.85 235.74 L187.12 235.78 L187.40 235.81 L187.68 235.84 L187.96 235.88 L188.24 235.91 L188.52 235.95 L188.80 235.98 L189.08 236.02 L189.36 236.05 L189.64 236.09 L189.92 236.13 L190.20 236.17 L190.48 236.20 L190.76 236.24 L191.03 236.28 L191.31 236.32 L191.59 236.36 L191.87 236.40 L192.15 236.44 L192.43 236.48 L192.71 236.52 L192.99 236.56 L193.27 236.61 L193.55 236.65 L193.83 236.69 L194.11 236.74 L194.39 236.78 L194.67 236.83 L194.94 236.88 L195.22 236.92 L195.50 236.97 L195.78 237.02 L196.06 237.07 L196.34 237.12 L196.62 237.17 L196.90 237.22 L197.18 237.27 L197.46 237.32 L197.74 237.37 L198.02 237.43 L198.30 237.48 L198.58 237.53 L198.86 237.59 L199.13 237.65 L199.41 237.70 L199.69 237.76 L199.97 237.82 L200.25 237.88 L200.53 237.94 L200.81 238.00 L201.09 238.07 L201.37 238.13 L201.65 238.20 L201.93 238.26 L202.21 238.33 L202.49 238.40 L202.77 238.47 L203.04 238.54 L203.32 238.61 L203.60 238.68 L203.88 238.75 L204.16 238.83 L204.44 238.90 L204.72 238.98 L205.00 239.06 L205.28 239.14 L205.56 239.22 L205.84 239.31 L206.12 239.39 L206.40 239.48 L206.67 239.57 L206.95 239.65 L207.23 239.75 L207.51 239.84 L207.79 239.93 L208.07 240.03 L208.35 240.13 L208.63 240.23 L208.91 240.33 L209.19 240.43 L209.47 240.54 L209.75 240.65 L210.03 240.76 L210.31 240.87 L210.59 240.99 L210.86 241.11 L211.14 241.23 L211.42 241.35 L211.70 241.47 L211.98 241.60 L212.26 241.73 L212.54 241.87 L212.82 242.01 L213.10 242.15 L213.38 242.29 L213.66 242.44 L213.94 242.59 L214.22 242.74 L214.49 242.90 L214.77 243.06 L215.05 243.23 L215.33 243.40 L215.61 243.58 L215.89 243.76 L216.17 243.94 L216.45 244.13 L216.73 244.33 L217.01 244.53 L217.29 244.73 L217.57 244.94 L217.85 245.16 L218.13 245.39 L218.41 245.62 L218.68 245.86 L218.96 246.10 L219.24 246.35 L219.52 246.62 L219.80 246.89 L220.08 247.16 L220.36 247.45 L220.64 247.75 L220.92 248.05 L221.20 248.37 L221.48 248.70 L221.76 249.04 L222.04 249.40 L222.31 249.76 L222.59 250.14 L222.87 250.54 L223.15 250.95 L223.43 251.37 L223.71 251.82 L223.99 252.28 L224.27 252.76 L224.55 253.26 L224.83 253.79 L225.11 254.34 L225.39 254.91 L225.67 255.51 L225.95 256.13 L226.23 256.79 L226.50 257.48 L226.78 258.21 L227.06 258.97 L227.34 259.77 L227.62 260.61 L227.90 261.50 L228.18 262.44 L228.46 263.43 L228.74 264.48 L229.02 265.59 L229.30 266.77 L229.58 268.02 L229.86 269.35 L230.13 270.76 L230.41 272.26 L230.69 273.87 L230.97 275.57 L231.25 277.39 L231.53 279.34 L231.81 281.41 L232.09 283.63 L232.37 286.00 L232.65 288.52 L232.93 291.21 L233.21 294.08 L233.49 297.12 L233.77 300.35 L234.05 303.75 L234.32 307.33 L234.60 311.07 L234.88 314.95 L235.16 318.97 L235.44 323.09 L235.72 327.28 L236.00 331.50 L236.28 335.72 L236.56 339.91 L236.84 344.03 L237.12 348.05 L237.40 351.93 L237.68 355.67 L237.95 359.25 L238.23 362.65 L238.51 365.88 L238.79 368.92 L239.07 371.79 L239.35 374.48 L239.63 377.00 L239.91 379.37 L240.19 381.59 L240.47 383.66 L240.75 385.61 L241.03 387.43 L241.31 389.13 L241.59 390.74 L241.87 392.24 L242.14 393.65 L242.42 394.98 L242.70 396.23 L242.98 397.41 L243.26 398.52 L243.54 399.57 L243.82 400.56 L244.10 401.50 L244.38 402.39 L244.66 403.23 L244.94 404.03 L245.22 404.79 L245.50 405.52 L245.77 406.21 L246.05 406.87 L246.33 407.49 L246.61 408.09 L246.89 408.66 L247.17 409.21 L247.45 409.74 L247.73 410.24 L248.01 410.72 L248.29 411.18 L248.57 411.63 L248.85 412.05 L249.13 412.46 L249.41 412.86 L249.69 413.24 L249.96 413.60 L250.24 413.96 L250.52 414.30 L250.80 414.63 L251.08 414.95 L251.36 415.25 L251.64 415.55 L251.92 415.84 L252.20 416.11 L252.48 416.38 L252.76 416.65 L253.04 416.90 L253.32 417.14 L253.59 417.38 L253.87 417.61 L254.15 417.84 L254.43 418.06 L254.71 418.27 L254.99 418.47 L255.27 418.67 L255.55 418.87 L255.83 419.06 L256.11 419.24 L256.39 419.42 L256.67 419.60 L256.95 419.77 L257.23 419.94 L257.51 420.10 L257.78 420.26 L258.06 420.41 L258.34 420.56 L258.62 420.71 L258.90 420.85 L259.18 420.99 L259.46 421.13 L259.74 421.27 L260.02 421.40 L260.30 421.53 L260.58 421.65 L260.86 421.77 L261.14 421.89 L261.41 422.01 L261.69 422.13 L261.97 422.24 L262.25 422.35 L262.53 422.46 L262.81 422.57 L263.09 422.67 L263.37 422.77 L263.65 422.87 L263.93 422.97 L264.21 423.07 L264.49 423.16 L264.77 423.25 L265.05 423.35 L265.33 423.43 L265.60 423.52 L265.88 423.61 L266.16 423.69 L266.44 423.78 L266.72 423.86 L267.00 423.94 L267.28 424.02 L267.56 424.10 L267.84 424.17 L268.12 424.25 L268.40 424.32 L268.68 424.39 L268.96 424.46 L269.24 424.53 L269.51 424.60 L269.79 424.67 L270.07 424.74 L270.35 424.80 L270.63 424.87 L270.91 424.93 L271.19 425.00 L271.47 425.06 L271.75 425.12 L272.03 425.18 L272.31 425.24 L272.59 425.30 L272.87 425.35 L273.14 425.41 L273.42 425.47 L273.70 425.52 L273.98 425.57 L274.26 425.63 L274.54 425.68 L274.82 425.73 L275.10 425.78 L275.38 425.83 L275.66 425.88 L275.94 425.93 L276.22 425.98 L276.50 426.03 L276.78 426.08 L277.06 426.12 L277.33 426.17 L277.61 426.22 L277.89 426.26 L278.17 426.31 L278.45 426.35 L278.73 426.39 L279.01 426.44 L279.29 426.48 L279.57 426.52 L279.85 426.56 L280.13 426.60 L280.41 426.64 L280.69 426.68 L280.97 426.72 L281.24 426.76 L281.52 426.80 L281.80 426.83 L282.08 426.87 L282.36 426.91 L282.64 426.95 L282.92 426.98 L283.20 427.02 L283.48 427.05 L283.76 427.09 L284.04 427.12 L284.32 427.16 L284.60 427.19 L284.88 427.22 L285.15 427.26 L285.43 427.29 L285.71 427.32 L285.99 427.35 L286.27 427.39 L286.55 427.42 L286.83 427.45 L287.11 427.48 L287.39 427.51 L287.67 427.54 L287.95 427.57 L288.23 427.60 L288.51 427.63 L288.78 427.66 L289.06 427.69 L289.34 427.71 L289.62 427.74 L289.90 427.77 L290.18 427.80 L290.46 427.82 L290.74 427.85 L291.02 427.88 L291.30 427.90 L291.58 427.93 L291.86 427.96 L292.14 427.98 L292.42 428.01 L292.69 428.03 L292.97 428.06 L293.25 428.08 L293.53 428.11 L293.81 428.13 L294.09 428.16 L294.37 428.18 L294.65 428.20 L294.93 428.23 L295.21 428.25 L295.49 428.27 L295.77 428.30 L296.05 428.32 L296.33 428.34 L296.61 428.36 L296.88 428.38 L297.16 428.41 L297.44 428.43 L297.72 428.45 L298.00 428.47 L298.28 428.49 L298.56 428.51 L298.84 428.53 L299.12 428.55 L299.40 428.57 L299.68 428.60 L299.96 428.62 L300.24 428.64 L300.51 428.65 L300.79 428.67 L301.07 428.69 L301.35 428.71 L301.63 428.73 L301.91 428.75 L302.19 428.77 L302.47 428.79 L302.75 428.81 L303.03 428.83 L303.31 428.84 L303.59 428.86 L303.87 428.88 L304.15 428.90 L304.42 428.92 L304.70 428.93 L304.98 428.95 L305.26 428.97 L305.54 428.99 L305.82 429.00 L306.10 429.02 L306.38 429.04 L306.66 429.05 L306.94 429.07 L307.22 429.09 L307.50 429.10 L307.78 429.12 L308.06 429.13 L308.34 429.15 L308.61 429.17 L308.89 429.18 L309.17 429.20 L309.45 429.21 L309.73 429.23 L310.01 429.24 L310.29 429.26 L310.57 429.27 L310.85 429.29 L311.13 429.30 L311.41 429.32 L311.69 429.33 L311.97 429.35 L312.24 429.36 L312.52 429.38 L312.80 429.39 L313.08 429.40 L313.36 429.42 L313.64 429.43 L313.92 429.45 L314.20 429.46 L314.48 429.47 L314.76 429.49 L315.04 429.50 L315.32 429.51 L315.60 429.53 L315.88 429.54 L316.16 429.55 L316.43 429.57 L316.71 429.58 L316.99 429.59 L317.27 429.61 L317.55 429.62 L317.83 429.63 L318.11 429.64 L318.39 429.66 L318.67 429.67 L318.95 429.68 L319.23 429.69 L319.51 429.71 L319.79 429.72 L320.06 429.73 L320.34 429.74 L320.62 429.75 L320.90 429.77 L321.18 429.78 L321.46 429.79 L321.74 429.80 L322.02 429.81 L322.30 429.82 L322.58 429.84 L322.86 429.85 L323.14 429.86 L323.42 429.87 L323.70 429.88 L323.98 429.89 L324.25 429.90 L324.53 429.91 L324.81 429.92 L325.09 429.94 L325.37 429.95 L325.65 429.96 L325.93 429.97 L326.21 429.98 L326.49 429.99 L326.77 430.00 L327.05 430.01 L327.33 430.02 L327.61 430.03 L327.88 430.04 L328.16 430.05 L328.44 430.06 L328.72 430.07 L329.00 430.08 L329.28 430.09 L329.56 430.10 L329.84 430.11 L330.12 430.12 L330.40 430.13 L330.68 430.14 L330.96 430.15 L331.24 430.16 L331.52 430.17 L331.80 430.18 L332.07 430.19 L332.35 430.20 L332.63 430.21 L332.91 430.21 L333.19 430.22 L333.47 430.23 L333.75 430.24 L334.03 430.25 L334.31 430.26 L334.59 430.27 L334.87 430.28 L335.15 430.29 L335.43 430.30 L335.70 430.30 L335.98 430.31 L336.26 430.32 L336.54 430.33 L336.82 430.34 L337.10 430.35 L337.38 430.36 L337.66 430.36 L337.94 430.37 L338.22 430.38 L338.50 430.39 L338.78 430.40 L339.06 430.41 L339.34 430.41 L339.62 430.42 L339.89 430.43 L340.17 430.44 L340.45 430.45 L340.73 430.45 L341.01 430.46 L341.29 430.47 L341.57 430.48 L341.85 430.49 L342.13 430.49 L342.41 430.50 L342.69 430.51 L342.97 430.52 L343.25 430.52 L343.52 430.53 L343.80 430.54 L344.08 430.55 L344.36 430.55 L344.64 430.56 L344.92 430.57 L345.20 430.58 L345.48 430.58 L345.76 430.59 L346.04 430.60 L346.32 430.61 L346.60 430.61 L346.88 430.62 L347.16 430.63 L347.44 430.63 L347.71 430.64 L347.99 430.65 L348.27 430.66 L348.55 430.66 L348.83 430.67 L349.11 430.68 L349.39 430.68 L349.67 430.69 L349.95 430.70 L350.23 430.70 L350.51 430.71 L350.79 430.72 L351.07 430.72 L351.34 430.73 L351.62 430.74 L351.90 430.74 L352.18 430.75 L352.46 430.76 L352.74 430.76 L353.02 430.77 L353.30 430.78 L353.58 430.78 L353.86 430.79 L354.14 430.80 L354.42 430.80 L354.70 430.81 L354.98 430.81 L355.26 430.82 L355.53 430.83 L355.81 430.83 L356.09 430.84 L356.37 430.85 L356.65 430.85 L356.93 430.86 L357.21 430.86 L357.49 430.87 L357.77 430.88 L358.05 430.88 L358.33 430.89 L358.61 430.89 L358.89 430.90 L359.16 430.91 L359.44 430.91 L359.72 430.92 L360.00 430.92 L360.28 430.93 L360.56 430.93 L360.84 430.94 L361.12 430.95 L361.40 430.95 L361.68 430.96 L361.96 430.96 L362.24 430.97 L362.52 430.97 L362.80 430.98 L363.08 430.98 L363.35 430.99 L363.63 431.00 L363.91 431.00 L364.19 431.01 L364.47 431.01 L364.75 431.02 L365.03 431.02 L365.31 431.03 L365.59 431.03 L365.87 431.04 L366.15 431.04 L366.43 431.05 L366.71 431.05 L366.99 431.06 L367.26 431.06 L367.54 431.07 L367.82 431.08 L368.10 431.08 L368.38 431.09 L368.66 431.09 L368.94 431.10 L369.22 431.10 L369.50 431.11 L369.78 431.11 L370.06 431.12 L370.34 431.12 L370.62 431.13 L370.89 431.13 L371.17 431.14 L371.45 431.14 L371.73 431.14 L372.01 431.15 L372.29 431.15 L372.57 431.16 L372.85 431.16 L373.13 431.17 L373.41 431.17 L373.69 431.18 L373.97 431.18 L374.25 431.19 L374.53 431.19 L374.81 431.20 L375.08 431.20 L375.36 431.21 L375.64 431.21 L375.92 431.22 L376.20 431.22 L376.48 431.22 L376.76 431.23 L377.04 431.23 L377.32 431.24 L377.60 431.24 L377.88 431.25 L378.16 431.25 L378.44 431.26 L378.72 431.26 L378.99 431.26 L379.27 431.27 L379.55 431.27 L379.83 431.28 L380.11 431.28 L380.39 431.29 L380.67 431.29 L380.95 431.29 L381.23 431.30 L381.51 431.30 L381.79 431.31 L382.07 431.31 L382.35 431.32 L382.62 431.32 L382.90 431.32 L383.18 431.33 L383.46 431.33 L383.74 431.34 L384.02 431.34 L384.30 431.34 L384.58 431.35 L384.86 431.35 L385.14 431.36 L385.42 431.36 L385.70 431.36 L385.98 431.37 L386.26 431.37 L386.53 431.38 L386.81 431.38 L387.09 431.38 L387.37 431.39 L387.65 431.39 L387.93 431.40 L388.21 431.40 L388.49 431.40 L388.77 431.41 L389.05 431.41 L389.33 431.41 L389.61 431.42 L389.89 431.42 L390.17 431.43 L390.44 431.43 L390.72 431.43 L391.00 431.44 L391.28 431.44 L391.56 431.44 L391.84 431.45 L392.12 431.45 L392.40 431.45 L392.68 431.46 L392.96 431.46 L393.24 431.47 L393.52 431.47 L393.80 431.47 L394.08 431.48 L394.36 431.48 L394.63 431.48 L394.91 431.49 L395.19 431.49 L395.47 431.49 L395.75 431.50 L396.03 431.50 L396.31 431.50 L396.59 431.51 L396.87 431.51 L397.15 431.51 L397.43 431.52 L397.71 431.52 L397.99 431.52 L398.26 431.53 L398.54 431.53 L398.82 431.53 L399.10 431.54 L399.38 431.54 L399.66 431.54 L399.94 431.55 L400.22 431.55 L400.50 431.55 L400.78 431.56 L401.06 431.56 L401.34 431.56 L401.62 431.57 L401.90 431.57 L402.17 431.57 L402.45 431.58 L402.73 431.58 L403.01 431.58 L403.29 431.59 L403.57 431.59 L403.85 431.59 L404.13 431.60 L404.41 431.60 L404.69 431.60 L404.97 431.60 L405.25 431.61 L405.53 431.61 L405.81 431.61 L406.09 431.62 L406.36 431.62 L406.64 431.62 L406.92 431.63 L407.20 431.63 L407.48 431.63 L407.76 431.63 L408.04 431.64 L408.32 431.64 L408.60 431.64 L408.88 431.65 L409.16 431.65 L409.44 431.65 L409.72 431.65 L409.99 431.66 L410.27 431.66 L410.55 431.66 L410.83 431.67 L411.11 431.67 L411.39 431.67 L411.67 431.67 L411.95 431.68 L412.23 431.68 L412.51 431.68 L412.79 431.69 L413.07 431.69 L413.35 431.69 L413.63 431.69 L413.91 431.70 L414.18 431.70 L414.46 431.70 L414.74 431.70 L415.02 431.71 L415.30 431.71 L415.58 431.71 L415.86 431.72 L416.14 431.72 L416.42 431.72 L416.70 431.72 L416.98 431.73 L417.26 431.73 L417.54 431.73 L417.81 431.73 L418.09 431.74 L418.37 431.74 L418.65 431.74 L418.93 431.74 L419.21 431.75 L419.49 431.75 L419.77 431.75 L420.05 431.75 L420.33 431.76 L420.61 431.76 L420.89 431.76 L421.17 431.76 L421.45 431.77 L421.73 431.77 L422.00 431.77 L422.28 431.77 L422.56 431.78 L422.84 431.78 L423.12 431.78 L423.40 431.78 L423.68 431.79 L423.96 431.79 L424.24 431.79 L424.52 431.79 L424.80 431.80 L425.08 431.80 L425.36 431.80 L425.63 431.80 L425.91 431.81 L426.19 431.81 L426.47 431.81 L426.75 431.81 L427.03 431.81 L427.31 431.82 L427.59 431.82 L427.87 431.82 L428.15 431.82 L428.43 431.83 L428.71 431.83 L428.99 431.83 L429.27 431.83 L429.55 431.84 L429.82 431.84 L430.10 431.84 L430.38 431.84 L430.66 431.84 L430.94 431.85 L431.22 431.85 L431.50 431.85" stroke="#e0231c" stroke-width="1.5" fill="none" stroke-linejoin="round"/>
<path d="M40.50 223.50 L236.00 122.80 L431.50 223.50" stroke="#111" stroke-width="1.3" fill="none" stroke-linejoin="miter"/>
<path d="M199.5 122.80 H226 M272 122.80 H246" stroke="#111" stroke-width="1.4" fill="none"/>
<path d="M232 122.80 l-8.5 -4 v8 z M240.5 122.80 l8.5 -4 v8 z" fill="#111"/>
<g font-family="'Liberation Sans', Arial, sans-serif" fill="#111" stroke="#111" stroke-width="0.22">
<g font-size="12.6">
<text x="43.5" y="13">H(f), dB</text>
<text x="210.3" y="12">Bode plot</text>
<text x="283" y="107.3">half-power bandwidth</text>
<text x="282" y="122.6">(passband)</text>
<text x="120.9" y="198.7">roll-of<tspan dx="2.5">f</tspan> of 20 dB</text>
<text x="121.3" y="213.4">per decade</text>
<text x="266.0" y="198.7">roll-of<tspan dx="2.5">f</tspan> of 20 dB</text>
<text x="266.9" y="213.4">per decade</text>
<text x="320" y="451.2" font-size="13"><tspan font-style="italic">f</tspan>, Hz</text>
<text transform="translate(10.5 421.8) rotate(-90)" font-size="12.5">Phase transfer function, degrees</text>
</g>
<g font-size="10.6">
<text x="58.6" y="32.9">-3 dB</text>
<text x="34.6" y="23.6" text-anchor="end">0</text>
<text x="36.0" y="73.4" text-anchor="end">-10</text>
<text x="36.0" y="124.3" text-anchor="end">-20</text>
<text x="36.0" y="175.0" text-anchor="end">-30</text>
<text x="36.0" y="225.8" text-anchor="end">-40</text>
<text x="33.8" y="243.4" text-anchor="end">80</text>
<text x="33.8" y="265.9" text-anchor="end">60</text>
<text x="33.8" y="288.3" text-anchor="end">40</text>
<text x="33.8" y="310.8" text-anchor="end">20</text>
<text x="29.7" y="333.2" text-anchor="end">0</text>
<text x="36.2" y="355.6" text-anchor="end">-20</text>
<text x="36.2" y="378.1" text-anchor="end">-40</text>
<text x="36.2" y="400.5" text-anchor="end">-60</text>
<text x="36.2" y="423.0" text-anchor="end">-80</text>
</g>
<text x="35.3" y="452.6" font-size="11.3">10<tspan dx="0.6" dy="-9.0" font-size="8.6">5</tspan></text>
<text x="224.1" y="452.6" font-size="11.3">10<tspan dx="0.6" dy="-9.0" font-size="8.6">6</tspan></text>
<text x="417.4" y="452.6" font-size="11.3">10<tspan dx="0.6" dy="-9.0" font-size="8.6">7</tspan></text>
</g>
</svg>
</body></html>
